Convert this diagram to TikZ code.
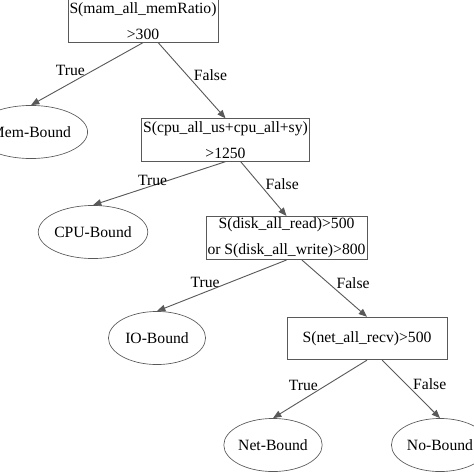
\documentclass[tikz,border=0pt]{standalone}
\usepackage{fontspec}
\setmainfont{Liberation Serif}
\usetikzlibrary{shapes.geometric,arrows.meta}

\begin{document}
\begin{tikzpicture}[x=0.02110cm, y=-0.02110cm]
		\tikzstyle{every node}=[align=center, inner sep=1pt, font=\fontsize{9.4}{15.5}\selectfont]
		\tikzstyle{test}=[draw=black!65, rectangle, minimum height=0.9cm]
		\tikzstyle{leaf}=[draw=black!65, ellipse, inner sep=0pt, minimum width=2.05cm, minimum height=1.12cm]
		\tikzstyle{edge}=[draw=black!65, line width=0.55pt, -{Triangle[length=5pt,width=4pt]}]
		\tikzstyle{yes}=[midway, left, yshift=2pt]
		\tikzstyle{no}=[midway, right, yshift=3pt]
		\useasboundingbox (0, 0) rectangle (474, 474);

		\node[test, minimum width=2.95cm] (memq) at (143, 21) {S(mam\_all\_memRatio)\\>300};
		\node[leaf] (mem) at (31, 132) {Mem-Bound};
		\node[test, minimum width=3.4cm] (cpuq) at (225.5, 140) {S(cpu\_all\_us+cpu\_all+sy)\\>1250};
		\node[leaf] (cpu) at (93, 232) {CPU-Bound};
		\node[test, minimum width=3.4cm] (diskq) at (286.5, 238) {S(disk\_all\_read)>500\\or S(disk\_all\_write)>800};
		\node[leaf] (io) at (157, 338) {IO-Bound};
		\node[test, minimum width=3.38cm] (netq) at (367, 338.5) {S(net\_all\_recv)>500};
		\node[leaf] (net) at (273, 445) {Net-Bound};
		\node[leaf] (nob) at (440, 445) {No-Bound};

		\draw [edge] (memq.south) -- node[yes] {True} (mem.north);
		\draw [edge] (memq.-55) -- node[no] {False} (cpuq.north);
		\draw [edge] (cpuq.south) -- node[yes, xshift=6pt] {True} (cpu.north);
		\draw [edge] (cpuq.-55) -- node[no] {False} (diskq.north);
		\draw [edge] (diskq.south) -- node[yes] {True} (io.north);
		\draw [edge] (diskq.-55) -- node[no] {False} (netq.north);
		\draw [edge] (netq.south) -- node[yes] {True} (net.north);
		\draw [edge] (netq.-55) -- node[no] {False} (nob.north);
	\end{tikzpicture}
\end{document}
